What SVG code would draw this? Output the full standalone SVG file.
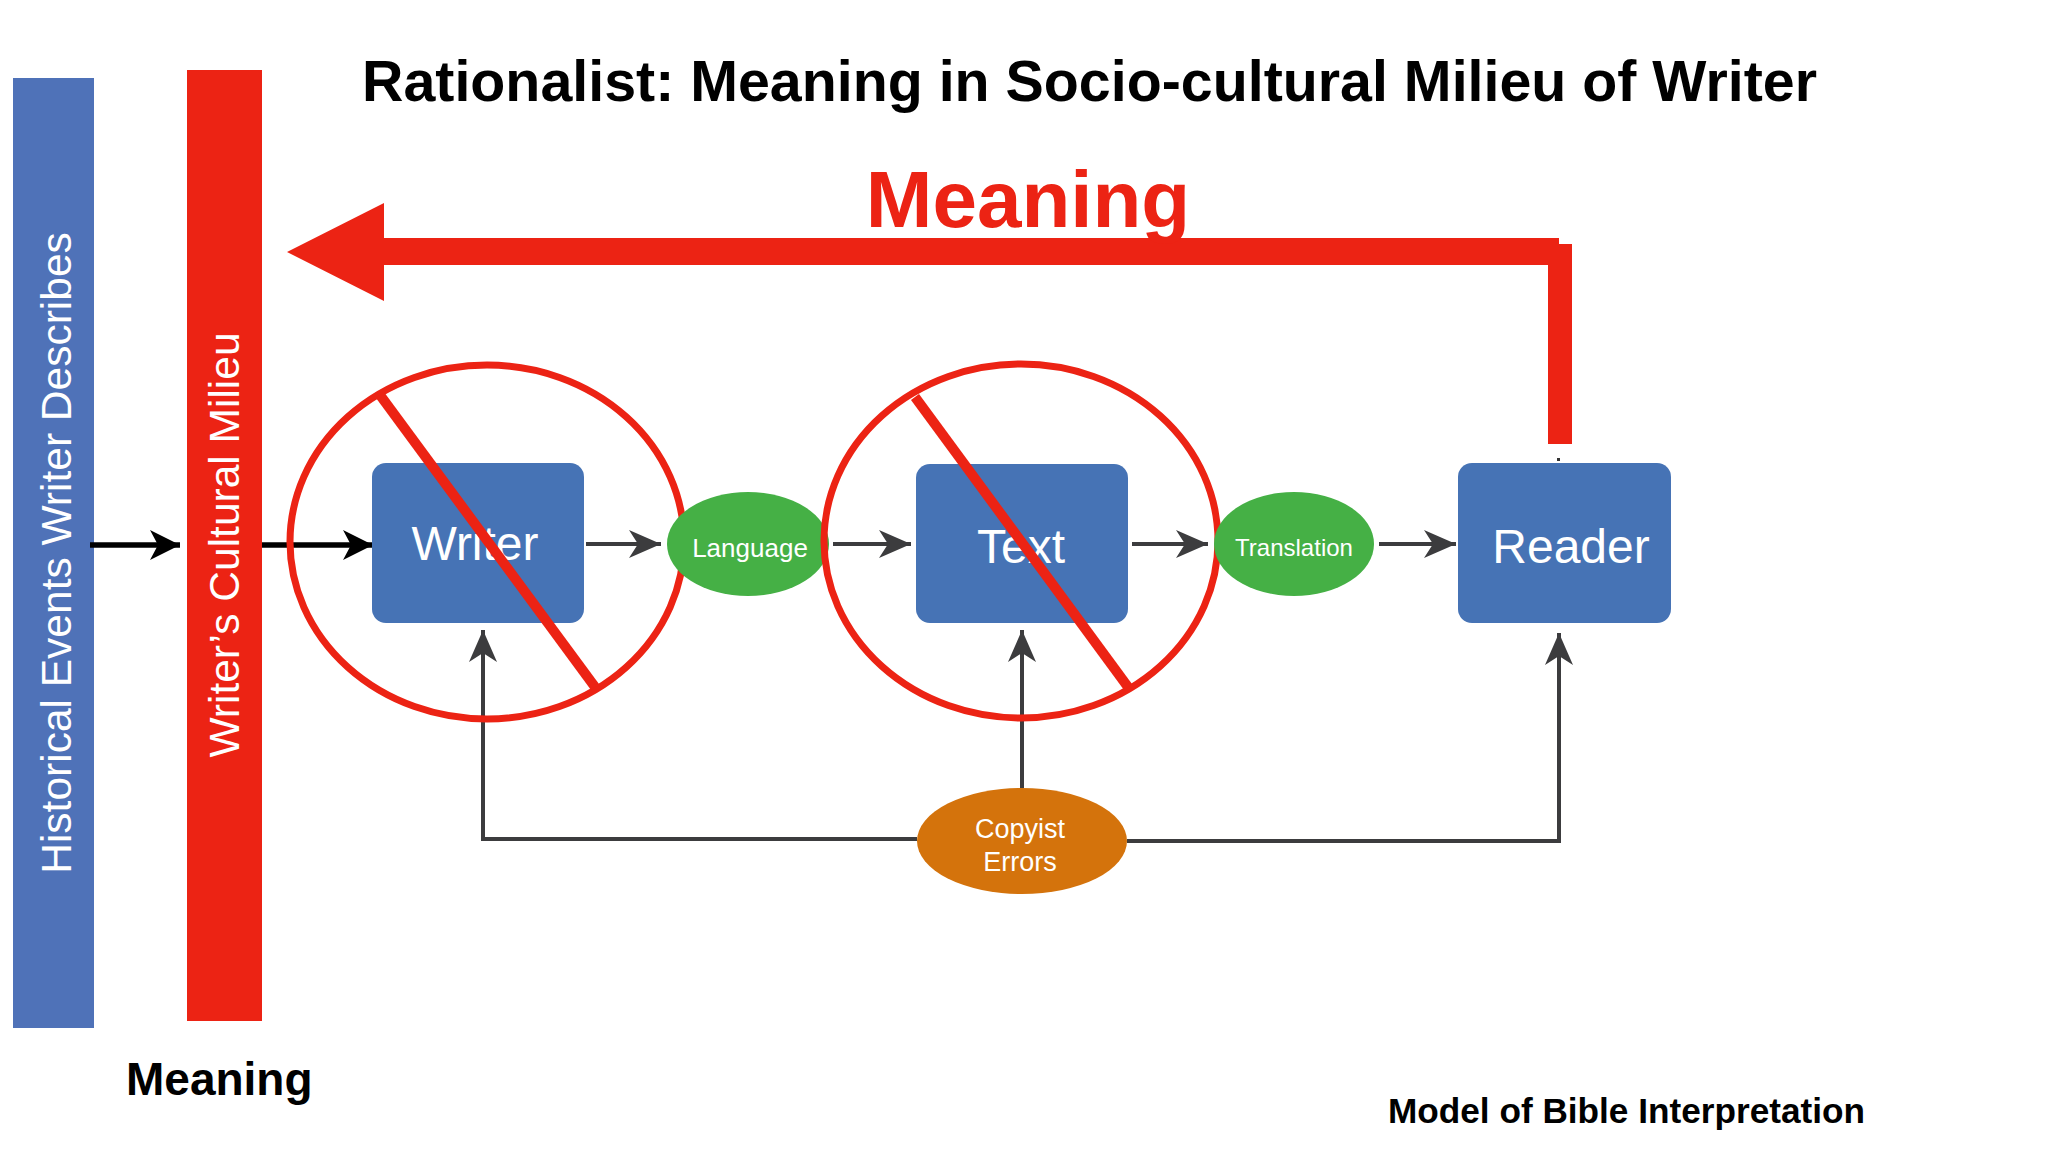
<svg xmlns="http://www.w3.org/2000/svg" width="2048" height="1152" viewBox="0 0 2048 1152">
<style>
  .sans { font-family: "Liberation Sans", Arial, sans-serif; }
  .box { fill: #4673B5; }
  .boxtxt { fill: #ffffff; font-size: 48px; text-anchor: middle; }
  .green { fill: #45B045; }
  .smalltxt { fill: #ffffff; text-anchor: middle; }
  .conn { fill: none; stroke: #3c3c3e; stroke-width: 4; }
  .blk { fill: none; stroke: #000000; stroke-width: 5.5; }
  .ban { fill: none; stroke: #EC2314; stroke-width: 7; }
  .slash { stroke: #EC2314; stroke-width: 10; }
</style>
<defs>
  <marker id="gh" markerUnits="userSpaceOnUse" markerWidth="32" markerHeight="28" refX="32" refY="14" orient="auto">
    <path d="M0,0 L32,14 L0,28 L9,14 Z" fill="#3c3c3e"/>
  </marker>
  <marker id="bh" markerUnits="userSpaceOnUse" markerWidth="30" markerHeight="30" refX="30" refY="15" orient="auto">
    <path d="M0,0 L30,15 L0,30 L8,15 Z" fill="#000000"/>
  </marker>
</defs>
<rect width="2048" height="1152" fill="#ffffff"/>

<text class="sans" x="362" y="101" font-size="57" font-weight="bold" fill="#000000" textLength="1455" lengthAdjust="spacingAndGlyphs">Rationalist: Meaning in Socio-cultural Milieu of Writer</text>

<g id="historical-events">
  <rect x="13" y="78" width="81" height="950" fill="#4F72B8"/>
  <text class="sans" transform="translate(71,553) rotate(-90)" font-size="42.5" fill="#ffffff" text-anchor="middle">Historical Events Writer Describes</text>
</g>

<g id="cultural-milieu">
  <rect x="187" y="70" width="75" height="951" fill="#EC2314"/>
  <text class="sans" transform="translate(239,545) rotate(-90)" font-size="42.5" fill="#ffffff" text-anchor="middle">Writer’s Cultural Milieu</text>
</g>

<g id="meaning-arrow">
  <path d="M287,252 L384,203 L384,238 L1559,238 L1559,244 L1572,244 L1572,444 L1548,444 L1548,265 L384,265 L384,301 Z" fill="#EC2314"/>
  <text class="sans" x="1028" y="227" font-size="80" font-weight="bold" fill="#EC2314" text-anchor="middle">Meaning</text>
  <rect x="1557" y="458" width="3" height="3" fill="#333333"/>
</g>

<g id="connectors">
  <path class="blk" d="M90,545 H180" marker-end="url(#bh)"/>
  <path class="blk" d="M262,545 H373" marker-end="url(#bh)"/>
  <path class="conn" d="M586,544 H661" marker-end="url(#gh)"/>
  <path class="conn" d="M833,544 H911" marker-end="url(#gh)"/>
  <path class="conn" d="M1132,544 H1208" marker-end="url(#gh)"/>
  <path class="conn" d="M1379,544 H1456" marker-end="url(#gh)"/>
  <path class="conn" d="M1022,788 V630" marker-end="url(#gh)"/>
  <path class="conn" d="M917,839 H483 V630" marker-end="url(#gh)"/>
  <path class="conn" d="M1127,841 H1559 V633" marker-end="url(#gh)"/>
</g>

<g id="writer">
  <rect class="box" x="372" y="463" width="212" height="160" rx="14"/>
  <text class="sans boxtxt" x="475" y="560">Writer</text>
</g>

<g id="writer-ban">
  <ellipse class="ban" cx="487" cy="542" rx="197" ry="177"/>
  <line class="slash" x1="380" y1="395" x2="595" y2="687"/>
</g>

<g id="language">
  <ellipse class="green" cx="748" cy="544" rx="81" ry="52"/>
  <text class="sans smalltxt" x="750" y="557" font-size="26">Language</text>
</g>

<g id="text">
  <rect class="box" x="916" y="464" width="212" height="159" rx="14"/>
  <text class="sans boxtxt" x="1021" y="563">Text</text>
</g>

<g id="text-ban">
  <ellipse class="ban" cx="1021" cy="541" rx="197" ry="177"/>
  <line class="slash" x1="915" y1="397" x2="1128" y2="687"/>
</g>

<g id="translation">
  <ellipse class="green" cx="1294" cy="544" rx="80" ry="52"/>
  <text class="sans smalltxt" x="1294" y="556" font-size="24">Translation</text>
</g>

<g id="reader">
  <rect class="box" x="1458" y="463" width="213" height="160" rx="14"/>
  <text class="sans boxtxt" x="1571" y="563">Reader</text>
</g>

<g id="copyist-errors">
  <ellipse cx="1022" cy="841" rx="105" ry="53" fill="#D4730C"/>
  <text class="sans smalltxt" x="1020" y="838" font-size="27">Copyist</text>
  <text class="sans smalltxt" x="1020" y="871" font-size="27">Errors</text>
</g>

<text class="sans" x="126" y="1095" font-size="46" font-weight="bold" fill="#000000">Meaning</text>
<text class="sans" x="1388" y="1123" font-size="35.2" font-weight="bold" fill="#000000">Model of Bible Interpretation</text>
</svg>
